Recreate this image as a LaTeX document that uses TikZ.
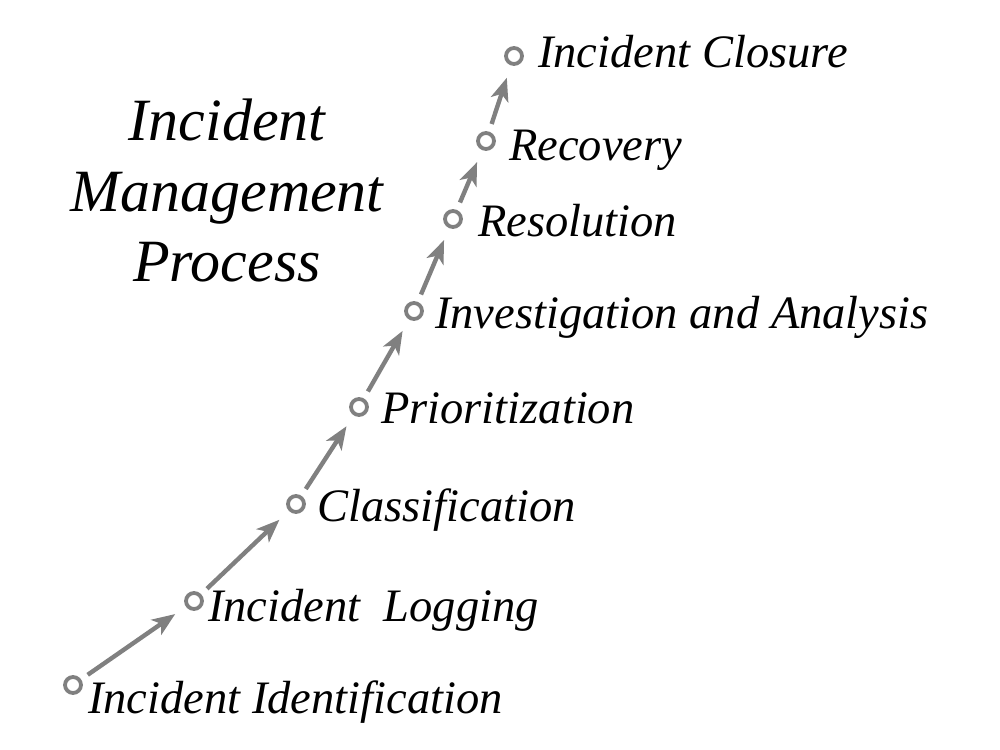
\documentclass[tikz,border=0pt]{standalone}
\usepackage{fontspec}
\setmainfont{Liberation Serif}
\usetikzlibrary{arrows.meta}
\definecolor{stepgray}{HTML}{808080}
\begin{document}
\begin{tikzpicture}[x=1pt,y=-1pt,
  dot/.style={circle,draw=stepgray,fill=white,line width=3.8pt,minimum size=16pt,inner sep=0pt},
  lbl/.style={anchor=base west,inner sep=0pt,font=\fontsize{46.5}{52}\selectfont\itshape},
  ttl/.style={anchor=base,inner sep=0pt,font=\fontsize{60}{66}\selectfont\itshape},
  arr/.style={draw=stepgray,line width=4.4pt,-{Stealth[length=23pt,width=18pt,inset=6pt]},shorten <=8pt,shorten >=13pt}]
\useasboundingbox (0,0) rectangle (1000,749);
% title
\node[ttl] (t1) at (227,140) {Incident};
\node[ttl] (t2) at (227,211) {Management};
\node[ttl] (t3) at (227,281) {Process};
% dots
\node[dot] (c1) at (73,685) {};
\node[dot] (c2) at (194,601) {};
\node[dot] (c3) at (296,504) {};
\node[dot] (c4) at (359,407) {};
\node[dot] (c5) at (414,311) {};
\node[dot] (c6) at (453,219) {};
\node[dot] (c7) at (486,141) {};
\node[dot] (c8) at (514,56) {};
% labels
\node[lbl] (l1) at (88,713) {Incident Identification};
\node[lbl] (l2) at (208,621) {Incident\ \ Logging};
\node[lbl] (l3) at (317,521) {Classification};
\node[lbl] (l4) at (381,423) {Prioritization};
\node[lbl] (l5) at (435,328) {Investigation and Analysis};
\node[lbl] (l6) at (478,236) {Resolution};
\node[lbl] (l7) at (509,160) {Recovery};
\node[lbl] (l8) at (538,68) {Incident Closure};
% arrows
\draw[arr] (c1) -- (c2);
\draw[arr] (c2) -- (c3);
\draw[arr] (c3) -- (c4);
\draw[arr] (c4) -- (c5);
\draw[arr] (c5) -- (c6);
\draw[arr] (c6) -- (c7);
\draw[arr] (c7) -- (c8);
\end{tikzpicture}
\end{document}
